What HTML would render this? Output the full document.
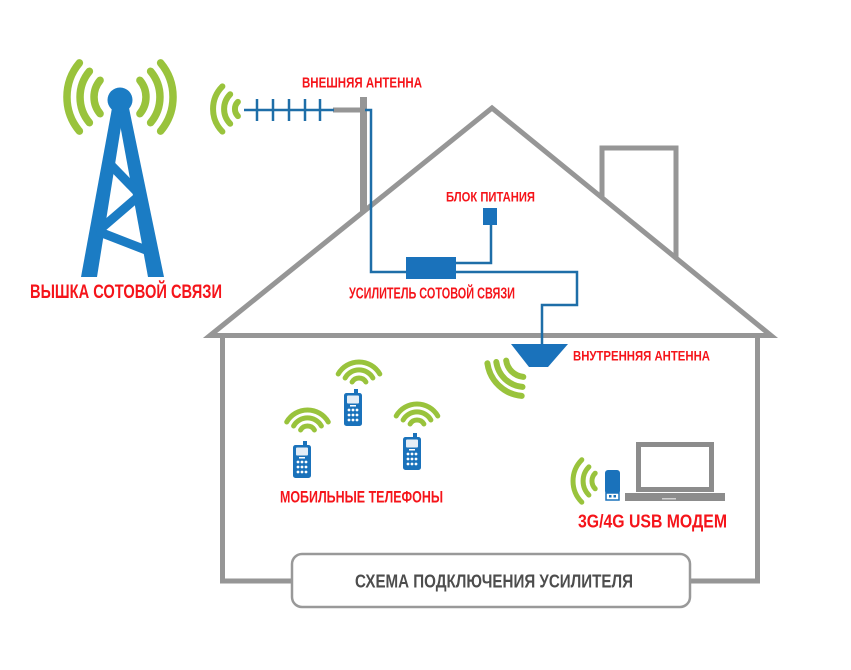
<!DOCTYPE html>
<html><head><meta charset="utf-8"><style>
html,body{margin:0;padding:0;background:#fff;}
svg{display:block;}
text{font-family:"Liberation Sans Narrow","Liberation Sans","DejaVu Sans",sans-serif;font-weight:bold;}
</style></head><body>
<svg width="851" height="670" viewBox="0 0 851 670" xmlns="http://www.w3.org/2000/svg">
<rect width="851" height="670" fill="#fff"/>

<!-- House -->
<g fill="none" stroke="#969696" stroke-width="5" stroke-linejoin="miter">
  <polygon points="210,335.5 492,108 771,335.5"/>
  <polyline points="602,198 602,148 676,148 676,257"/>
  <polyline points="222.5,335.5 222.5,581 757.5,581 757.5,335.5"/>
</g>

<!-- Mast -->
<line x1="363.5" y1="97" x2="363.5" y2="212" stroke="#969696" stroke-width="7"/>
<line x1="333" y1="110" x2="363" y2="110" stroke="#969696" stroke-width="5"/>

<!-- Yagi -->
<g stroke="#1e6ea8" stroke-width="2.5" fill="none">
  <line x1="244" y1="110" x2="334" y2="110"/>
  <line x1="257" y1="99" x2="257" y2="121"/>
  <line x1="273" y1="99" x2="273" y2="121"/>
  <line x1="289" y1="99" x2="289" y2="121"/>
  <line x1="305" y1="99" x2="305" y2="121"/>
  <line x1="320" y1="99" x2="320" y2="121"/>
  <!-- cables -->
  <path d="M365,110 H371 V272 H406"/>
  <path d="M456,272 H577 V305 H542 V345"/>
  <path d="M456,263 H491 V224"/>
</g>

<!-- Amplifier, power, inner antenna -->
<rect x="406" y="257" width="50" height="22" fill="#1a72bb"/>
<rect x="483" y="208" width="14" height="17" fill="#1a72bb"/>
<polygon points="511,344 568,344 548,367 529,367" fill="#1a72bb"/>

<!-- Tower -->
<g fill="#1b7cc4">
  <polygon points="112,108 124,108 97,277 81,277"/>
  <polygon points="117,108 129,108 164,277 148,277"/>
  <circle cx="120" cy="100" r="12.5"/>
</g>
<g stroke="#1b7cc4" stroke-width="9" fill="none">
  <line x1="108" y1="162" x2="140" y2="195"/>
  <line x1="140" y1="195" x2="97" y2="232"/>
  <line x1="97" y1="231" x2="151" y2="252"/>
</g>

<!-- Green signal arcs -->
<g fill="none" stroke="#99c33c" stroke-linecap="round">
  <g stroke-width="7.5">
    <path d="M100.1,80.3 A26,26 0 0 0 100.1,113.7"/>
    <path d="M89.4,71.3 A40,40 0 0 0 89.4,122.7"/>
    <path d="M79.4,62.9 A53,53 0 0 0 79.4,131.1"/>
    <path d="M139.9,80.3 A26,26 0 0 1 139.9,113.7"/>
    <path d="M150.6,71.3 A40,40 0 0 1 150.6,122.7"/>
    <path d="M160.6,62.9 A53,53 0 0 1 160.6,131.1"/>
  </g>
  <g stroke-width="6">
    <path d="M237.9,101.9 A10,10 0 0 0 237.9,116.1"/>
    <path d="M230.2,94.2 A21,21 0 0 0 230.2,123.8"/>
    <path d="M222.4,86.4 A32,32 0 0 0 222.4,131.6"/>
    <!-- inner antenna -->
    <path d="M506.2,360.6 A19,19 0 0 0 523.3,376.9"/>
    <path d="M496.3,362 A29,29 0 0 0 522.5,386.9"/>
    <path d="M487.4,363.3 A38,38 0 0 0 521.7,395.9"/>
  </g>
  <g stroke-width="5">
    <path d="M352.1,382 A8,8 0 0 1 365.9,382"/>
    <path d="M345.1,378 A16,16 0 0 1 372.9,378"/>
    <path d="M338.2,374 A24,24 0 0 1 379.8,374"/>
    <path d="M300.6,430 A8,8 0 0 1 314.4,430"/>
    <path d="M293.6,426 A16,16 0 0 1 321.4,426"/>
    <path d="M286.7,422 A24,24 0 0 1 328.3,422"/>
    <path d="M410.1,424 A8,8 0 0 1 423.9,424"/>
    <path d="M403.1,420 A16,16 0 0 1 430.9,420"/>
    <path d="M396.2,416 A24,24 0 0 1 437.8,416"/>
    <path d="M595.2,473.2 A11,11 0 0 0 595.2,488.8"/>
    <path d="M588.9,466.9 A20,20 0 0 0 588.9,495.1"/>
    <path d="M581.8,459.8 A30,30 0 0 0 581.8,502.2"/>
  </g>
</g>

<!-- Phones -->
<g transform="translate(0,0)">
  <rect x="303" y="441" width="4" height="6" fill="#1a72bb"/>
  <rect x="293" y="445" width="18" height="33" rx="2.5" fill="#1a72bb"/>
  <rect x="296" y="447.5" width="12" height="8" rx="1" fill="#e4edf6"/>
  <rect x="299" y="457" width="6" height="1.5" fill="#fff"/>
  <g fill="#fff"><circle cx="298" cy="462" r="1.4"/><circle cx="302" cy="462" r="1.4"/><circle cx="306" cy="462" r="1.4"/>
  <circle cx="298" cy="467" r="1.4"/><circle cx="302" cy="467" r="1.4"/><circle cx="306" cy="467" r="1.4"/>
  <circle cx="298" cy="472" r="1.4"/><circle cx="302" cy="472" r="1.4"/><circle cx="306" cy="472" r="1.4"/></g>
</g>
<g transform="translate(51,-52)">
  <rect x="303" y="441" width="4" height="6" fill="#1a72bb"/>
  <rect x="293" y="445" width="18" height="33" rx="2.5" fill="#1a72bb"/>
  <rect x="296" y="447.5" width="12" height="8" rx="1" fill="#e4edf6"/>
  <rect x="299" y="457" width="6" height="1.5" fill="#fff"/>
  <g fill="#fff"><circle cx="298" cy="462" r="1.4"/><circle cx="302" cy="462" r="1.4"/><circle cx="306" cy="462" r="1.4"/>
  <circle cx="298" cy="467" r="1.4"/><circle cx="302" cy="467" r="1.4"/><circle cx="306" cy="467" r="1.4"/>
  <circle cx="298" cy="472" r="1.4"/><circle cx="302" cy="472" r="1.4"/><circle cx="306" cy="472" r="1.4"/></g>
</g>
<g transform="translate(110,-8)">
  <rect x="303" y="441" width="4" height="6" fill="#1a72bb"/>
  <rect x="293" y="445" width="18" height="33" rx="2.5" fill="#1a72bb"/>
  <rect x="296" y="447.5" width="12" height="8" rx="1" fill="#e4edf6"/>
  <rect x="299" y="457" width="6" height="1.5" fill="#fff"/>
  <g fill="#fff"><circle cx="298" cy="462" r="1.4"/><circle cx="302" cy="462" r="1.4"/><circle cx="306" cy="462" r="1.4"/>
  <circle cx="298" cy="467" r="1.4"/><circle cx="302" cy="467" r="1.4"/><circle cx="306" cy="467" r="1.4"/>
  <circle cx="298" cy="472" r="1.4"/><circle cx="302" cy="472" r="1.4"/><circle cx="306" cy="472" r="1.4"/></g>
</g>

<!-- Laptop -->
<rect x="638.5" y="444.5" width="73" height="45" fill="#fff" stroke="#8c8c8c" stroke-width="5"/>
<rect x="625" y="493" width="100" height="8" fill="#8c8c8c"/>
<rect x="662" y="498" width="14" height="1.5" fill="#d0d0d0"/>

<!-- USB modem -->
<rect x="605" y="470" width="15" height="24" rx="3" fill="#1a72bb"/>
<rect x="606" y="493" width="13" height="7" fill="#fff" stroke="#1a72bb" stroke-width="1.5"/>
<rect x="609" y="495" width="2.5" height="2.5" fill="#1a72bb"/>
<rect x="613.5" y="495" width="2.5" height="2.5" fill="#1a72bb"/>

<!-- Bottom caption box -->
<rect x="292" y="554" width="398" height="53" rx="10" fill="#fff" stroke="#999" stroke-width="2.5"/>

<!-- Labels -->
<g fill="#f5141a">
  <text x="30" y="298" font-size="19" textLength="192" lengthAdjust="spacingAndGlyphs">ВЫШКА СОТОВОЙ СВЯЗИ</text>
  <text x="302" y="87.5" font-size="14.5" textLength="120" lengthAdjust="spacingAndGlyphs">ВНЕШНЯЯ АНТЕННА</text>
  <text x="446" y="201.5" font-size="14" textLength="89" lengthAdjust="spacingAndGlyphs">БЛОК ПИТАНИЯ</text>
  <text x="349" y="298.5" font-size="15.5" textLength="166" lengthAdjust="spacingAndGlyphs">УСИЛИТЕЛЬ СОТОВОЙ СВЯЗИ</text>
  <text x="573" y="360.5" font-size="14" textLength="137" lengthAdjust="spacingAndGlyphs">ВНУТРЕННЯЯ АНТЕННА</text>
  <text x="280" y="502.5" font-size="16.5" textLength="163" lengthAdjust="spacingAndGlyphs">МОБИЛЬНЫЕ ТЕЛЕФОНЫ</text>
  <text x="578" y="527.5" font-size="18.5" textLength="149" lengthAdjust="spacingAndGlyphs">3G/4G USB МОДЕМ</text>
</g>
<text x="355" y="587.5" font-size="18" fill="#4d4d4d" textLength="278" lengthAdjust="spacingAndGlyphs">СХЕМА ПОДКЛЮЧЕНИЯ УСИЛИТЕЛЯ</text>
</svg>
</body></html>
